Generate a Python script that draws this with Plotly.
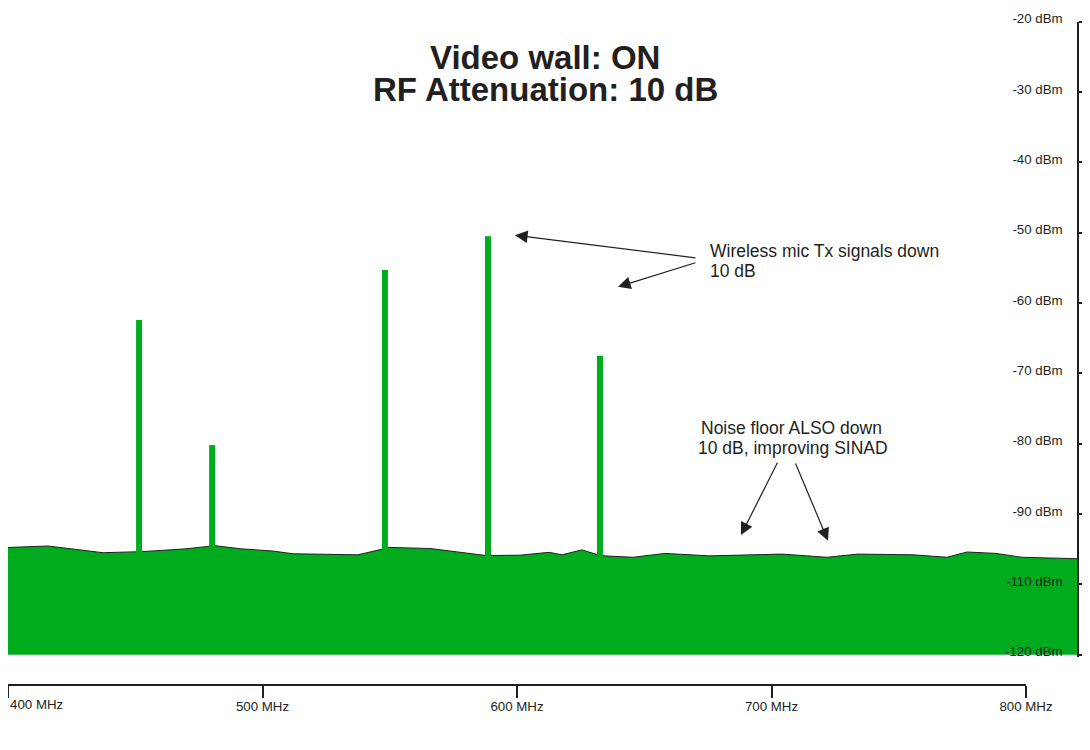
import plotly.graph_objects as go

# noise floor trace (MHz, dBm)
floor_freq = [396.9, 415.7, 437.3, 450.3, 452.7, 469.9, 479.0, 481.3, 491.6, 503.7,
              512.0, 537.5, 547.0, 549.7, 565.8, 587.8, 590.2, 601.2, 612.6, 617.7,
              625.5, 631.8, 634.2, 645.6, 658.2, 675.4, 704.1, 721.8, 734.0, 755.6,
              769.0, 776.8, 788.2, 798.4, 819.6, 823.6]
floor_dbm = [-94.8, -94.55, -95.5, -95.45, -95.35, -94.95, -94.65, -94.5, -94.95, -95.25,
             -95.65, -95.8, -95.0, -94.75, -94.9, -95.9, -95.9, -95.85, -95.45, -95.8,
             -95.1, -95.8, -95.95, -96.15, -95.6, -95.95, -95.7, -96.15, -95.7, -95.8,
             -96.15, -95.4, -95.6, -96.15, -96.35, -96.35]
floor_base = -110

# wireless mic carriers
mic_freq = [451.5, 480.2, 548.1, 588.6, 632.6]
mic_dbm = [-62.4, -80.2, -55.3, -50.5, -67.5]

x_ticks = [400, 500, 600, 700, 800]
x_ticktext = ['', '500 MHz', '600 MHz', '700 MHz', '800 MHz']
y_ticks = [-20, -30, -40, -50, -60, -70, -80, -90, -100, -110]
y_ticktext = ['-20 dBm', '-30 dBm', '-40 dBm', '-50 dBm', '-60 dBm', '-70 dBm',
              '-80 dBm', '-90 dBm', '-110 dBm', '-120 dBm']

GREEN = '#00ab1e'
INK = '#231f20'
FONT = 'Liberation Sans, Arial, sans-serif'

# page has an 8px body margin, keep the figure inside the window
W, H, OFF = 1074, 734, 8
def px(x):
    return (x - OFF) / W
def py(y):
    return 1 - (y - OFF) / H

fig = go.Figure()
fig.add_trace(go.Scatter(x=[floor_freq[0], floor_freq[-1]], y=[floor_base, floor_base],
                         mode='lines', line=dict(width=0), hoverinfo='skip'))
fig.add_trace(go.Scatter(x=floor_freq, y=floor_dbm, mode='lines', fill='tonexty',
                         fillcolor=GREEN, line=dict(color=INK, width=1), hoverinfo='skip'))

spike_x, spike_y = [], []
for f, level in zip(mic_freq, mic_dbm):
    spike_x += [f, f, None]
    spike_y += [floor_base + 12, level, None]
fig.add_trace(go.Scatter(x=spike_x, y=spike_y, mode='lines',
                         line=dict(color=GREEN, width=6), hoverinfo='skip'))

# carrier for the frequency scale drawn under the plot
fig.add_trace(go.Scatter(x=x_ticks, y=[0] * len(x_ticks), xaxis='x2', yaxis='y3',
                         mode='markers', marker=dict(opacity=0), hoverinfo='skip'))

tick_font = dict(family=FONT, size=13.3, color=INK)
plain = dict(showgrid=False, zeroline=False, automargin=False)

fig.update_layout(
    width=W, height=H,
    margin=dict(l=0, r=0, t=0, b=0, pad=0),
    paper_bgcolor='white', plot_bgcolor='rgba(0,0,0,0)',
    showlegend=False, hovermode=False,
    xaxis=dict(range=[400, 400 + (1077 - OFF) / 2.545], domain=[0, px(1077)],
               visible=False, **plain),
    yaxis=dict(range=[-110.33, -20], domain=[py(657), py(21.7)], anchor='x', side='right',
               showline=True, linecolor=INK, linewidth=2,
               ticks='outside', ticklen=10, tickwidth=2, tickcolor=INK,
               tickvals=y_ticks, ticktext=y_ticktext, tickfont=tick_font,
               ticklabelposition='inside', ticklabelstandoff=14, ticklabelshift=-3,
               ticklabeloverflow='allow', **plain),
    yaxis2=dict(overlaying='y', range=[-110.33, -20], anchor='x', side='right',
                ticks='inside', ticklen=10, tickwidth=2, tickcolor=INK,
                tickvals=y_ticks, showticklabels=False, showline=False, **plain),
    xaxis2=dict(range=[400, 800], domain=[px(8), px(1026)], anchor='y3',
                showline=True, linecolor=INK, linewidth=2,
                ticks='outside', ticklen=12, tickwidth=2, tickcolor=INK,
                tickvals=x_ticks, ticktext=x_ticktext, tickfont=tick_font,
                ticklabelstandoff=-3, **plain),
    xaxis3=dict(overlaying='x2', range=[400, 800], anchor='y3',
                ticks='inside', ticklen=12, tickwidth=2, tickcolor=INK,
                tickvals=x_ticks, showticklabels=False, showline=False, **plain),
    yaxis3=dict(domain=[py(684), py(664)], anchor='x2', visible=False, **plain),
)

title_font = dict(family=FONT, size=33, color=INK)
fig.add_annotation(text='<b>Video wall: ON</b>', xref='paper', yref='paper',
                   x=px(545), y=py(57), showarrow=False, font=title_font, yanchor='middle')
fig.add_annotation(text='<b>RF Attenuation: 10 dB</b>', xref='paper', yref='paper',
                   x=px(545), y=py(89), showarrow=False, font=title_font, yanchor='middle')

fig.add_annotation(text='400 MHz', xref='paper', yref='paper', x=px(8), y=py(695),
                   xanchor='left', yanchor='top', showarrow=False, font=tick_font)

# callout texts, one annotation per line: (text, x, y, xanchor) in page pixels
note_font = dict(family=FONT, size=17.5, color=INK)
notes = [('Wireless mic Tx signals down', 708, 251, 'left'), ('10 dB', 708, 271, 'left'),
         ('Noise floor ALSO down', 791, 428, 'center'),
         ('10 dB, improving SINAD', 793, 448, 'center')]
for text, nx, ny, anchor in notes:
    fig.add_annotation(text=text, xref='paper', yref='paper', x=px(nx), y=py(ny),
                       xanchor=anchor, yanchor='middle', showarrow=False, font=note_font)

# arrows: (head_f, head_dbm, tail_f, tail_dbm)
arrows = [(599.2, -50.35, 670.7, -53.6), (639.7, -57.7, 670.7, -54.2),
          (688.0, -93.0, 702.6, -82.5), (722.2, -93.8, 709.2, -82.6)]
for hx, hy, tx, ty in arrows:
    fig.add_annotation(x=hx, y=hy, ax=tx, ay=ty, axref='x', ayref='y', text='',
                       showarrow=True, arrowhead=2, arrowsize=2.1, arrowwidth=1.2,
                       arrowcolor=INK, standoff=0)

fig.write_html("out.html")
